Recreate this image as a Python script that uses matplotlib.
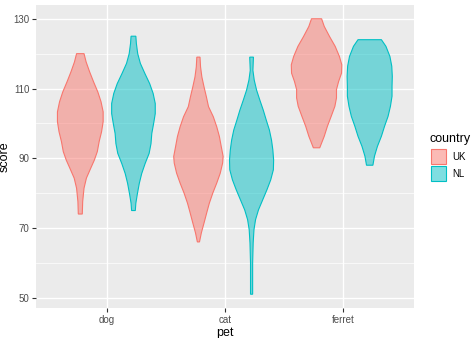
import matplotlib
matplotlib.use("Agg")
import matplotlib.pyplot as plt
import numpy as np
from matplotlib.patches import Rectangle

plt.rcParams['font.family'] = ['Liberation Sans', 'DejaVu Sans']

pets = ["dog", "cat", "ferret"]
countries = ["UK", "NL"]
colors = {"UK": "#F8766D", "NL": "#00BFC4"}

# violin outlines: score levels and relative half-width (0..1)
dog_uk_score = [120, 117.6, 114.8, 111.9, 109, 106.2, 103.3, 100.5, 97.6, 94.8, 91.9, 89.5, 87.1, 84.3, 81.4, 77.6, 74]
dog_uk_width = [0.14, 0.22, 0.35, 0.50, 0.66, 0.78, 0.86, 0.86, 0.80, 0.71, 0.64, 0.53, 0.39, 0.23, 0.14, 0.09, 0.075]

dog_nl_score = [125, 122.9, 120, 117.2, 114.3, 111.4, 108.6, 105.7, 102.8, 100, 97.1, 94.2, 91.4, 88.5, 85.6, 82.8, 79.9, 77.1, 75]
dog_nl_width = [0.09, 0.11, 0.16, 0.26, 0.43, 0.61, 0.74, 0.82, 0.82, 0.76, 0.69, 0.66, 0.59, 0.44, 0.31, 0.22, 0.15, 0.09, 0.07]

cat_uk_score = [119, 116.2, 113.3, 110.5, 107.6, 104.8, 101.9, 99.0, 96.2, 93.3, 90.5, 88.6, 85.7, 82.9, 80, 77.1, 74.3, 71.4, 68.6, 66]
cat_uk_width = [0.06, 0.08, 0.13, 0.21, 0.30, 0.38, 0.56, 0.69, 0.79, 0.86, 0.93, 0.91, 0.82, 0.69, 0.54, 0.41, 0.31, 0.21, 0.11, 0.04]

cat_nl_score = [119, 115.2, 112.4, 109.5, 106.7, 103.8, 101, 98.1, 95.2, 92.4, 89.5, 86.7, 83.8, 81, 78.1, 75.2, 72.4, 69.5, 65.7, 60, 54.3, 51]
cat_nl_width = [0.07, 0.05, 0.10, 0.19, 0.31, 0.44, 0.55, 0.67, 0.75, 0.80, 0.83, 0.82, 0.72, 0.58, 0.42, 0.26, 0.15, 0.09, 0.06, 0.04, 0.04, 0.04]

ferret_uk_score = [130, 127.8, 124.9, 122.1, 119.2, 116.8, 114.4, 112, 109.7, 107.3, 104.9, 102, 99.2, 96.3, 93]
ferret_uk_width = [0.19, 0.29, 0.49, 0.70, 0.86, 0.95, 0.94, 0.83, 0.75, 0.75, 0.69, 0.55, 0.41, 0.29, 0.12]

ferret_nl_score = [124, 122.1, 119.2, 116.4, 113.5, 110.6, 107.8, 104.9, 102, 99.2, 96.3, 93.4, 90.6, 88]
ferret_nl_width = [0.44, 0.61, 0.76, 0.83, 0.85, 0.84, 0.84, 0.78, 0.69, 0.56, 0.44, 0.29, 0.18, 0.12]

violins = {
    ("dog", "UK"): (dog_uk_score, dog_uk_width),
    ("dog", "NL"): (dog_nl_score, dog_nl_width),
    ("cat", "UK"): (cat_uk_score, cat_uk_width),
    ("cat", "NL"): (cat_nl_score, cat_nl_width),
    ("ferret", "UK"): (ferret_uk_score, ferret_uk_width),
    ("ferret", "NL"): (ferret_nl_score, ferret_nl_width),
}

W, H = 474, 338
fig = plt.figure(figsize=(W / 100, H / 100), dpi=100)
ax = fig.add_axes([36 / W, 1 - 308 / H, (414 - 36) / W, (308 - 5) / H])
ax.set_facecolor("#EBEBEB")
for s in ax.spines.values():
    s.set_visible(False)

dodge = 0.225
half_max = 0.225
for i, pet in enumerate(pets):
    for j, c in enumerate(countries):
        sc, wd = violins[(pet, c)]
        sc = np.array(sc)
        wd = np.array(wd) * half_max
        xc = i + 1 + (-dodge if c == "UK" else dodge)
        xs = np.concatenate([xc - wd, (xc + wd)[::-1]])
        ys = np.concatenate([sc, sc[::-1]])
        ax.fill(xs, ys, facecolor=colors[c], alpha=0.5, zorder=3, lw=0)
        ax.fill(xs, ys, facecolor="none", edgecolor=colors[c], lw=0.8, zorder=4)

ax.set_xlim(0.4, 3.6)
ax.set_ylim(47.05, 133.95)
ax.set_xticks([1, 2, 3])
ax.set_xticklabels(pets)
ax.set_yticks([50, 70, 90, 110, 130])
ax.set_yticks([60, 80, 100, 120], minor=True)
ax.grid(which="major", color="white", lw=1.0, zorder=0)
ax.grid(which="minor", axis="y", color="white", lw=0.5, zorder=0)
ax.set_axisbelow(True)
ax.tick_params(axis="both", which="major", length=2.7, width=0.8, color="#333333",
               labelsize=7, labelcolor="#4D4D4D", pad=2)
ax.tick_params(axis="y", which="minor", length=0)
ax.set_xlabel("pet", fontsize=9)
ax.set_ylabel("score", fontsize=9)
ax.xaxis.set_label_coords(0.5, (308 - 327) / 303)
ax.yaxis.set_label_coords((11 - 36) / 378, 0.5)

# legend
fig.text(430 / W, 1 - 139 / H, "country", fontsize=9, va="center", ha="left")
for k, c in enumerate(countries):
    y0 = 148.5 + k * 17.3
    fig.patches.append(Rectangle((431 / W, 1 - (y0 + 15.5) / H), 15 / W, 15.5 / H,
                                 transform=fig.transFigure, facecolor=colors[c], alpha=0.5, lw=0))
    fig.patches.append(Rectangle((431 / W, 1 - (y0 + 15.5) / H), 15 / W, 15.5 / H,
                                 transform=fig.transFigure, facecolor="none",
                                 edgecolor=colors[c], lw=0.8))
    fig.text(452 / W, 1 - (y0 + 8) / H, c, fontsize=7, va="center", ha="left")

fig.savefig("out.png", dpi=100)
